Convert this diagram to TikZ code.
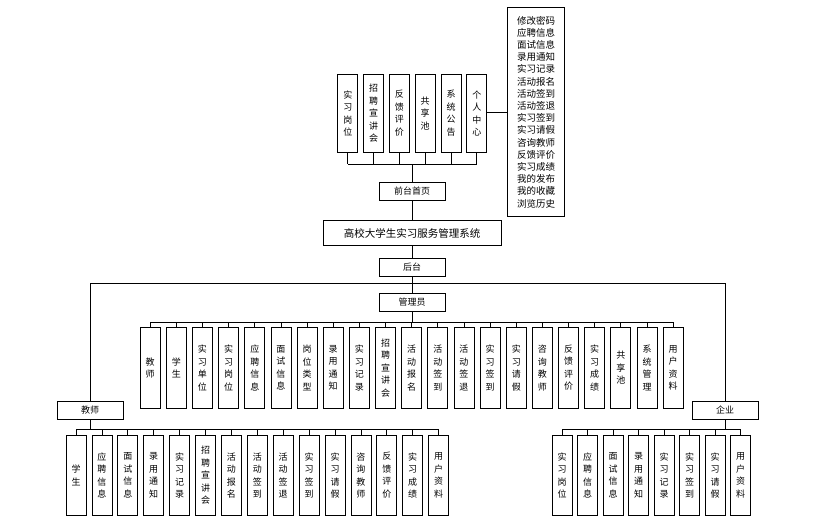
\documentclass[tikz,border=0pt]{standalone}
\usepackage{fontspec}
\newfontfamily\cjk{Noto Sans CJK SC}
\usepackage{tikz}
\usetikzlibrary{positioning}

\begin{document}
\begin{tikzpicture}
      [ x=1pt, y=-1pt, font=\cjk\fontsize{9}{12.5}\selectfont,
        box/.style={draw, thick, minimum width=66pt, minimum height=18pt, inner sep=0pt},
        col/.style={draw, thick, minimum width=20pt, minimum height=#1, inner sep=0pt, align=center, anchor=north},
        col/.default=80pt,
        wire/.style={thick}
      ]
      \useasboundingbox (0,0) rectangle (824,524);

      % front part
      \node[box]  (front)  at (412,191)  {前台首页};
      \node[draw, thick, minimum width=178pt, minimum height=25pt, font=\cjk\fontsize{10.5}{12}\selectfont] (system) at (412,233) {高校大学生实习服务管理系统};
      \node[box]  (back)   at (412,267)  {后台};
      \node[box]  (admin)  at (412,302)  {管理员};
      \node[box]  (teacher) at (90,410)  {教师};
      \node[box]  (company) at (725,410) {企业};
      \node[draw, thick, minimum width=57pt, minimum height=209pt, align=left, inner sep=2pt,
            font=\cjk\fontsize{9.5}{12.2}\selectfont] (center)
            at (536,112) {修改密码\\应聘信息\\面试信息\\录用通知\\实习记录\\活动报名\\活动签到\\活动签退\\实习签到\\实习请假\\咨询教师\\反馈评价\\实习成绩\\我的发布\\我的收藏\\浏览历史};

      \foreach \t [count=\i] in {{实\\习\\岗\\位},{招\\聘\\宣\\讲\\会},{反\\馈\\评\\价},{共\\享\\池},{系\\统\\公\\告},{个\\人\\中\\心}}
        {\node[col=78pt] (top\i) at (322+25.8*\i,74) {\t};
         \draw[wire] (top\i.south) -- (322+25.8*\i,164);}
      \draw[wire] (top1.south |- 0,164) -- (top6.south |- 0,164);
      \draw[wire] (412,164) -- (front.north);
      \draw[wire] (front.south) -- (system.north);
      \draw[wire] (top6.east |- center.west) -- (center.west);
      \draw[wire] (system.south) -- (back.north);
      \draw[wire] (back.south) -- (412,283);
      \draw[wire] (teacher.north) -- (90,283) -- (725,283) -- (company.north);
      \draw[wire] (412,283) -- (admin.north);

      % admin part
      \foreach \t [count=\i] in {{教\\师},{学\\生},{实\\习\\单\\位},{实\\习\\岗\\位},{应\\聘\\信\\息},{面\\试\\信\\息},{岗\\位\\类\\型},{录\\用\\通\\知},{实\\习\\记\\录},{招\\聘\\宣\\讲\\会},{活\\动\\报\\名},{活\\动\\签\\到},{活\\动\\签\\退},{实\\习\\签\\到},{实\\习\\请\\假},{咨\\询\\教\\师},{反\\馈\\评\\价},{实\\习\\成\\绩},{共\\享\\池},{系\\统\\管\\理},{用\\户\\资\\料}}
        {\node[col=81pt] (adm\i) at (124+26.15*\i,327) {\t};
         \draw[wire] (adm\i.north) -- (124+26.15*\i,322);}
      \draw[wire] (adm1.north |- 0,322) -- (adm21.north |- 0,322);
      \draw[wire] (admin.south) -- (412,322);

      % teacher part
      \foreach \t [count=\i] in {{学\\生},{应\\聘\\信\\息},{面\\试\\信\\息},{录\\用\\通\\知},{实\\习\\记\\录},{招\\聘\\宣\\讲\\会},{活\\动\\报\\名},{活\\动\\签\\到},{活\\动\\签\\退},{实\\习\\签\\到},{实\\习\\请\\假},{咨\\询\\教\\师},{反\\馈\\评\\价},{实\\习\\成\\绩},{用\\户\\资\\料}}
        {\node[col=80pt] (tea\i) at (50.1+25.9*\i,435) {\t};
         \draw[wire] (tea\i.north) -- (50.1+25.9*\i,429);}
      \draw[wire] (tea1.north |- 0,429) -- (tea15.north |- 0,429);
      \draw[wire] (teacher.south) -- (90,429);

      % company part
      \foreach \t [count=\i] in {{实\\习\\岗\\位},{应\\聘\\信\\息},{面\\试\\信\\息},{录\\用\\通\\知},{实\\习\\记\\录},{实\\习\\签\\到},{实\\习\\请\\假},{用\\户\\资\\料}}
        {\node[col=80pt] (com\i) at (536.5+25.5*\i,435) {\t};
         \draw[wire] (com\i.north) -- (536.5+25.5*\i,429);}
      \draw[wire] (com1.north |- 0,429) -- (com8.north |- 0,429);
      \draw[wire] (company.south) -- (725,429);
\end{tikzpicture}
\end{document}
